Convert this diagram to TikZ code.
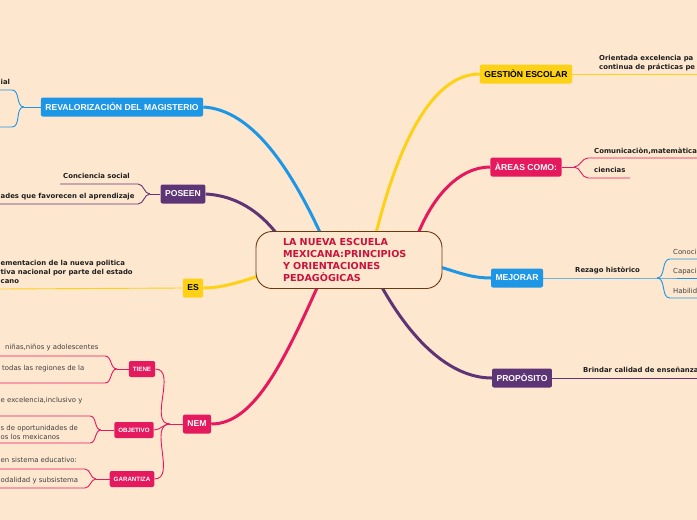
\documentclass[tikz,border=0pt]{standalone}
\usepackage{fontspec}
\newfontfamily\branchfont{Liberation Sans}
\newfontfamily\leaffont{DejaVu Sans}
\usepackage{xcolor}
\usetikzlibrary{positioning}

\definecolor{bgpeach}{HTML}{FEE7CF}
\definecolor{mblue}{HTML}{1E96E6}
\definecolor{mpink}{HTML}{E5195E}
\definecolor{mpurple}{HTML}{5D3475}
\definecolor{myellow}{HTML}{FDD116}
\definecolor{hubborder}{HTML}{6B3A12}
\definecolor{hubtext}{HTML}{C8143C}

\tikzset{
  branch/.style={rounded corners=2pt, text=white, inner xsep=4.5pt, inner ysep=0pt,
    minimum height=19pt, font=\branchfont\bfseries\fontsize{8.6}{9}\selectfont},
  subbranch/.style={branch, minimum height=16pt, inner xsep=4pt,
    font=\branchfont\bfseries\fontsize{6.2}{6.5}\selectfont},
  leaf/.style={inner sep=0pt, align=left, text=black!88,
    font=\leaffont\bfseries\fontsize{6.9}{9}\selectfont},
  leafr/.style={leaf, text=black!75, font=\leaffont\fontsize{6.9}{9}\selectfont},
  trunk/.style={line width=3pt},
  twig/.style={line width=0.9pt}
}

\begin{document}
\begin{tikzpicture}[x=1pt,y=-1pt]
    \fill[bgpeach] (0,0) rectangle (697,520);
    \useasboundingbox (0,0) rectangle (697,520);

    % branch nodes, left
    \node[branch, fill=mblue] (reval) at (122,107) {REVALORIZACIÓN DEL MAGISTERIO};
    \node[branch, fill=mpurple] (poseen) at (183,194) {POSEEN};
    \node[branch, fill=myellow, text=black] (es) at (193,288) {ES};
    \node[branch, fill=mpink] (nem) at (197,424) {NEM};
    \node[subbranch, fill=mpink] (tiene) at (142,369) {TIENE};
    \node[subbranch, fill=mpink] (objetivo) at (134,430) {OBJETIVO};
    \node[subbranch, fill=mpink] (garantiza) at (132,479) {GARANTIZA};

    % branch nodes, right
    \node[branch, fill=myellow, text=black] (gestion) at (526,74) {GESTIÒN ESCOLAR};
    \node[branch, fill=mpink] (areas) at (526,167) {ÀREAS COMO:};
    \node[branch, fill=mblue] (mejorar) at (517,278) {MEJORAR};
    \node[branch, fill=mpurple] (proposito) at (522,378) {PROPÒSITO};

    % ends of the trunks, under the hub
    \coordinate (hubRev) at (328,250);
    \coordinate (hubPos) at (285,245);
    \coordinate (hubEs) at (272,272);
    \coordinate (hubNem) at (325,270);
    \coordinate (hubGes) at (372,250);
    \coordinate (hubAre) at (412,250);
    \coordinate (hubMej) at (430,265);
    \coordinate (hubPro) at (378,280);

    \draw[trunk, mblue] (reval.east) .. controls (255,110) and (295,175) .. (hubRev);
    \draw[trunk, mpurple] (poseen.east) .. controls (240,196) and (265,215) .. (hubPos);
    \draw[trunk, myellow] (es.east) .. controls (225,288) and (245,280) .. (hubEs);
    \draw[trunk, mpink] (nem.east) .. controls (255,424) and (285,360) .. (hubNem);
    \draw[trunk, myellow] (gestion.west) .. controls (430,74) and (395,150) .. (hubGes);
    \draw[trunk, mpink] (areas.west) .. controls (460,167) and (430,195) .. (hubAre);
    \draw[trunk, mblue] (mejorar.west) .. controls (465,278) and (450,268) .. (hubMej);
    \draw[trunk, mpurple] (proposito.west) .. controls (450,378) and (410,340) .. (hubPro);

    \node[draw=hubborder, line width=0.9pt, fill=bgpeach, rounded corners=16pt,
      minimum width=186pt, minimum height=57pt, text width=132pt, align=left,
      text=hubtext, font=\leaffont\bfseries\fontsize{9.6}{12}\selectfont]
      (hub) at (349,260) {LA NUEVA ESCUELA\\MEXICANA:PRINCIPIOS\\Y ORIENTACIONES\\PEDAGÒGICAS};

    % revalorizacion
    \coordinate (revJ) at (24,107);
    \coordinate (revA) at (12,90);
    \coordinate (revA0) at (0,90);
    \coordinate (revB) at (12,127);
    \coordinate (revB0) at (0,127);
    \draw[twig, mblue] (reval.west) -- (revJ);
    \draw[twig, mblue] (revJ) to[out=180, in=0] (revA) -- (revA0);
    \draw[twig, mblue] (revJ) to[out=180, in=0] (revB) -- (revB0);
    \node[leaf, anchor=north west] (ial) at (0.5,79) {ial};

    % poseen
    \coordinate (posJ) at (150,194);
    \coordinate (posA) at (138,184);
    \coordinate (posA0) at (60,184);
    \coordinate (posB) at (138,204);
    \coordinate (posB0) at (0,204);
    \draw[twig, mpurple] (poseen.west) -- (posJ);
    \draw[twig, mpurple] (posJ) to[out=180, in=0] (posA) -- (posA0);
    \draw[twig, mpurple] (posJ) to[out=180, in=0] (posB) -- (posB0);
    \node[leaf, anchor=north west] (social) at (63,173) {Conciencia social};
    \node[leaf, anchor=north west] (aprend) at (0.5,193) {ades que favorecen el aprendizaje};

    % es
    \coordinate (esA0) at (0,289);
    \draw[twig, myellow] (es.west) -- (esA0);
    \node[leaf, anchor=north west] (politica) at (0.5,260)
      {ementacion de la nueva politica\\tiva nacional por parte del estado\\cano};

    % nem
    \coordinate (nemJ) at (170,424);
    \draw[twig, mpink] (nem.west) -- (nemJ);
    \draw[twig, mpink] (nemJ) to[out=180, in=0] (tiene.east);
    \draw[twig, mpink] (nemJ) to[out=180, in=0] (objetivo.east);
    \draw[twig, mpink] (nemJ) to[out=180, in=0] (garantiza.east);

    \coordinate (tieJ) at (117,369);
    \coordinate (tieA) at (105,356);
    \coordinate (tieA0) at (0,356);
    \coordinate (tieB) at (105,383);
    \coordinate (tieB0) at (0,383);
    \draw[twig, mpink] (tiene.west) -- (tieJ);
    \draw[twig, mpink] (tieJ) to[out=180, in=0] (tieA) -- (tieA0);
    \draw[twig, mpink] (tieJ) to[out=180, in=0] (tieB) -- (tieB0);
    \node[leafr, anchor=north west] (ninos) at (5,344) {niñas,niños y adolescentes};
    \node[leafr, anchor=north west] (regiones) at (2,365) {todas las regiones de la};

    \coordinate (objJ) at (101,430);
    \coordinate (objA) at (90,416);
    \coordinate (objA0) at (0,416);
    \coordinate (objB) at (90,443);
    \coordinate (objB0) at (0,443);
    \draw[twig, mpink] (objetivo.west) -- (objJ);
    \draw[twig, mpink] (objJ) to[out=180, in=0] (objA) -- (objA0);
    \draw[twig, mpink] (objJ) to[out=180, in=0] (objB) -- (objB0);
    \node[leafr, anchor=north west] (excelencia) at (0.5,397) {e excelencia,inclusivo y};
    \node[leafr, anchor=north west] (oportunidad) at (0.5,425) {s de oportunidades de\\os los mexicanos};

    \coordinate (garJ) at (96,479);
    \coordinate (garA) at (85,469);
    \coordinate (garA0) at (0,469);
    \coordinate (garB) at (85,488);
    \coordinate (garB0) at (0,488);
    \draw[twig, mpink] (garantiza.west) -- (garJ);
    \draw[twig, mpink] (garJ) to[out=180, in=0] (garA) -- (garA0);
    \draw[twig, mpink] (garJ) to[out=180, in=0] (garB) -- (garB0);
    \node[leafr, anchor=north west] (sistema) at (0.5,457) {en sistema educativo:};
    \node[leafr, anchor=north west] (modalidad) at (0.5,477) {odalidad y subsistema};

    % gestion escolar
    \coordinate (gesA0) at (697,74);
    \draw[twig, myellow] (gestion.east) -- (gesA0);
    \node[leaf, anchor=north west] (orientada) at (599,55)
      {Orientada excelencia pa\\continua de prácticas pe};

    % areas
    \coordinate (areJ) at (574,167);
    \coordinate (areA) at (588,158);
    \coordinate (areA0) at (697,158);
    \coordinate (areB) at (588,178);
    \coordinate (areB0) at (630,178);
    \draw[twig, mpink] (areas.east) -- (areJ);
    \draw[twig, mpink] (areJ) to[out=0, in=180] (areA) -- (areA0);
    \draw[twig, mpink] (areJ) to[out=0, in=180] (areB) -- (areB0);
    \node[leaf, anchor=north west] (comunica) at (594,148) {Comunicaciòn,matemàtica};
    \node[leaf, anchor=north west] (ciencias) at (594,167) {ciencias};

    % mejorar
    \coordinate (mejJ) at (657,278);
    \coordinate (mejA) at (670,259);
    \coordinate (mejA0) at (697,259);
    \coordinate (mejB0) at (697,278);
    \coordinate (mejC) at (670,298);
    \coordinate (mejC0) at (697,298);
    \draw[twig, mblue] (mejorar.east) -- (mejJ) -- (mejB0);
    \draw[twig, mblue] (mejJ) to[out=0, in=180] (mejA) -- (mejA0);
    \draw[twig, mblue] (mejJ) to[out=0, in=180] (mejC) -- (mejC0);
    \node[leaf, anchor=north west] (rezago) at (575,267) {Rezago històrico};
    \node[leafr, anchor=north west] (conoci) at (673,249) {Conoci};
    \node[leafr, anchor=north west] (capaci) at (673,268) {Capaci};
    \node[leafr, anchor=north west] (habili) at (673,288) {Habilid};

    % proposito
    \coordinate (proA0) at (697,378);
    \draw[twig, mpurple] (proposito.east) -- (proA0);
    \node[leaf, anchor=north west] (brindar) at (583,367) {Brindar calidad de enseñanza};
\end{tikzpicture}
\end{document}
